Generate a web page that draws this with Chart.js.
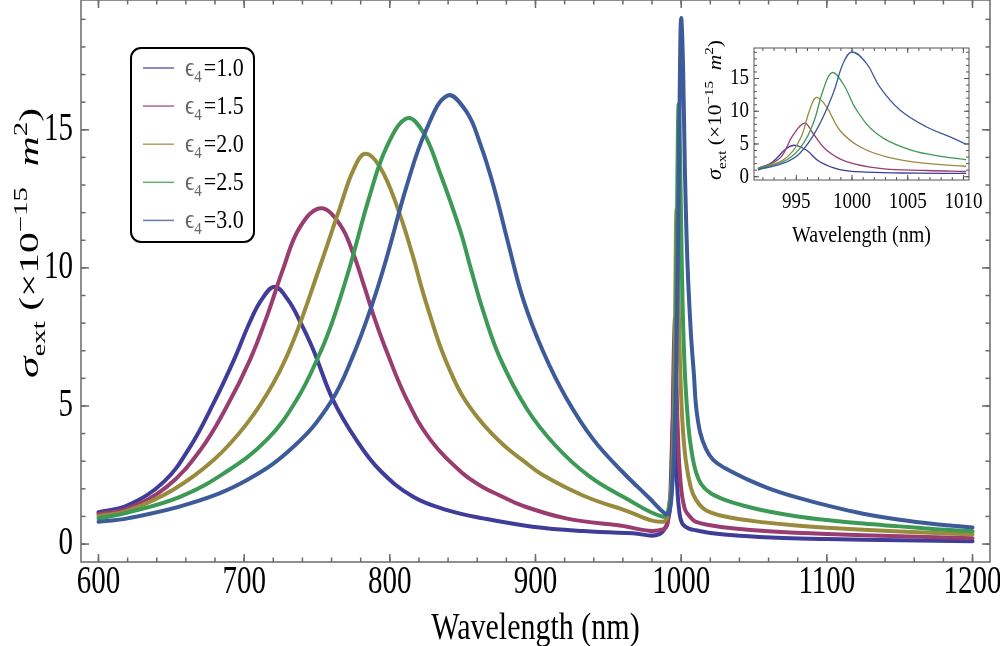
<!DOCTYPE html>
<html>
<head>
<meta charset="utf-8">
<script src="https://cdn.jsdelivr.net/npm/chart.js@4.4.0/dist/chart.umd.min.js"></script>
<style>
  body { margin: 0; background: #fff; }
  #wrap { position: relative; width: 1000px; height: 646px; }
  #main { position: absolute; left: 0; top: 0; }
  #inset { position: absolute; left: 690px; top: 0; }
</style>
</head>
<body>
<div id="wrap">
  <canvas id="main" width="1000" height="646"></canvas>
  <canvas id="inset" width="310" height="260"></canvas>
</div>
<script>
// eps_4 values of the five curves
var epsLabels = ['1.0', '1.5', '2.0', '2.5', '3.0'];
var colors = ['rgb(63,61,153)', 'rgb(153,61,113)', 'rgb(153,139,61)', 'rgb(61,153,86)', 'rgb(61,90,153)'];

// main plot: wavelength (nm) and sigma_ext (1e-15 m^2)
var wl1 = [600, 620, 645, 663, 679, 693, 704, 712, 721, 730, 738, 747.5, 761, 777, 793, 816, 840, 864, 898, 933,
           967, 985, 991.6, 992.9, 994.1, 994.9, 995.9, 997.1, 998.9, 1001.3, 1005.8, 1010.2, 1020, 1040, 1070, 1100, 1150, 1200];
var sig1 = [1.15, 1.40, 2.26, 3.53, 5.10, 6.67, 8.05, 8.85, 9.32, 8.85, 8.1, 7.03, 5.22, 3.77, 2.68, 1.71, 1.22, 0.93, 0.63, 0.47,
            0.39, 0.36, 1.02, 2.29, 4.3, 4.8, 4.07, 2.29, 1.1, 0.7, 0.55, 0.5, 0.4, 0.3, 0.22, 0.18, 0.14, 0.1];

var wl2 = [600, 620, 647, 670, 688, 704, 716, 727, 738, 752.5, 766, 775, 782, 790, 798, 811.5, 827.5, 850, 864, 875.5,
           891.5, 921, 955.6, 987.5, 991.6, 993.5, 994.7, 995.75, 996.5, 997.7, 999.5, 1002.5, 1006.7, 1010.2, 1020, 1035, 1060, 1100, 1150, 1200];
var sig2 = [1.09, 1.29, 2.08, 3.41, 4.97, 6.67, 8.3, 10.0, 11.45, 12.16, 11.55, 10.5, 9.4, 8.1, 6.95, 5.25, 3.8, 2.56, 2.06, 1.76,
            1.38, 0.93, 0.69, 0.53, 1.3, 2.8, 6.35, 8.2, 6.6, 4.07, 2.29, 1.27, 0.95, 0.8, 0.68, 0.57, 0.46, 0.36, 0.28, 0.21];

var wl3 = [600, 620, 651, 679, 702, 720, 734, 752, 766, 775, 783, 793, 805, 816, 822, 829, 835, 842, 850, 860,
           870, 880, 892, 905, 933, 960, 987.5, 991.6, 993.8, 995.3, 996.2, 996.8, 997.7, 998.9, 1000.7, 1003.1, 1006.7, 1010.2, 1015, 1020,
           1030, 1050, 1075, 1100, 1150, 1200];
var sig3 = [1.01, 1.21, 1.96, 3.04, 4.37, 5.82, 7.39, 10.05, 12.22, 13.55, 14.13, 13.67, 12.22, 10.4, 9.25, 8.05, 7.1, 6.2, 5.35, 4.6,
            4.0, 3.5, 3.0, 2.5, 1.75, 1.25, 0.81, 1.37, 2.54, 5.6, 10.2, 12.1, 10.7, 7.1, 4.57, 3.05, 2.03, 1.6, 1.3, 1.15,
            1.0, 0.83, 0.69, 0.59, 0.45, 0.35];

var wl4 = [600, 620, 656, 686, 715.5, 736, 752, 761, 772.6, 786, 798, 812, 823, 834, 848, 856, 864, 875.5, 894, 914,
           937, 962, 987.5, 991.6, 993.8, 995.3, 996.5, 997.4, 998.2, 999.2, 1000.4, 1002.2, 1004.9, 1007.3, 1010.2, 1014, 1020, 1030, 1045, 1060,
           1080, 1100, 1125, 1150, 1175, 1200];
var sig4 = [0.93, 1.14, 1.71, 2.56, 3.77, 5.22, 6.91, 8.12, 10.05, 12.58, 14.4, 15.42, 14.9, 13.5, 11.4, 9.9, 8.45, 6.75, 4.9, 3.55,
            2.45, 1.66, 0.99, 1.27, 2.29, 4.3, 8.1, 13.2, 15.9, 14.2, 10.2, 6.6, 4.3, 3.3, 2.6, 2.15, 1.85, 1.6, 1.36, 1.18,
            1.0, 0.87, 0.74, 0.64, 0.54, 0.46];

var wl5 = [600, 620, 663, 702, 734, 759, 775, 788, 798, 811.5, 825, 839.6, 852.7, 862, 871, 881, 891.6, 905, 921, 939.5,
           960, 978.4, 988.7, 991.6, 993.8, 995.3, 996.8, 998.3, 999.2, 1000, 1001.3, 1002.5, 1004.3, 1006.7, 1008.8, 1010.2, 1013, 1017, 1022, 1030,
           1045, 1060, 1080, 1100, 1125, 1150, 1175, 1200];
var sig5 = [0.81, 0.93, 1.47, 2.32, 3.53, 5.1, 6.85, 8.7, 10.4, 12.95, 15.0, 16.24, 15.65, 14.5, 13.0, 10.95, 8.85, 7.0, 5.3, 3.8,
            2.6, 1.65, 1.11, 1.12, 2.03, 3.56, 7.11, 12.7, 17.3, 19.05, 17.3, 13.7, 10.2, 7.6, 6.1, 5.0, 4.05, 3.45, 3.05, 2.75,
            2.35, 2.02, 1.68, 1.4, 1.1, 0.88, 0.72, 0.6];

// inset: close-up of the narrow resonance
var inWl1 = [991.6, 992.9, 994.1, 994.9, 995.9, 997.1, 998.9, 1001.3, 1005.8, 1010.2];
var inSig1 = [1.02, 2.29, 4.3, 4.8, 4.07, 2.29, 1.1, 0.7, 0.55, 0.5];
var inWl2 = [991.6, 993.5, 994.7, 995.75, 996.5, 997.7, 999.5, 1002.5, 1006.7, 1010.2];
var inSig2 = [1.3, 2.8, 6.35, 8.2, 6.6, 4.07, 2.29, 1.27, 0.95, 0.8];
var inWl3 = [991.6, 993.8, 995.3, 996.2, 996.8, 997.7, 998.9, 1000.7, 1003.1, 1006.7, 1010.2];
var inSig3 = [1.37, 2.54, 5.6, 10.2, 12.1, 10.7, 7.1, 4.57, 3.05, 2.03, 1.6];
var inWl4 = [991.6, 993.8, 995.3, 996.5, 997.4, 998.2, 999.2, 1000.4, 1002.2, 1004.9, 1007.3, 1010.2];
var inSig4 = [1.27, 2.29, 4.3, 8.1, 13.2, 15.9, 14.2, 10.2, 6.6, 4.3, 3.3, 2.6];
var inWl5 = [991.6, 993.8, 995.3, 996.8, 998.3, 999.2, 1000, 1001.3, 1002.5, 1004.3, 1006.7, 1008.8, 1010.2];
var inSig5 = [1.12, 2.03, 3.56, 7.11, 12.7, 17.3, 19.05, 17.3, 13.7, 10.2, 7.6, 6.1, 5.0];

var xTicks = [600, 700, 800, 900, 1000, 1100, 1200];
var yTicks = [0, 5, 10, 15];
var insetXTicks = [995, 1000, 1005, 1010];
var insetYTicks = [0, 5, 10, 15];

var SERIF = "'Liberation Serif', 'DejaVu Serif', serif";

function series(xs, ys) {
    return xs.map(function (x, i) { return { x: x, y: ys[i] }; });
}

function makeDatasets(pairs, width) {
    return pairs.map(function (p, i) {
        return {
            label: epsLabels[i],
            data: series(p[0], p[1]),
            borderColor: colors[i],
            borderWidth: width,
            pointRadius: 0,
            fill: false,
            tension: 0.4,
            borderJoinStyle: 'round',
            borderCapStyle: 'round',
            order: pairs.length - 1 - i
        };
    });
}

function frameScales(xMin, xMax, yMin, yMax, yWidth, xHeight) {
    return {
        x: {
            type: 'linear', min: xMin, max: xMax,
            ticks: { display: false }, grid: { display: false }, border: { display: false },
            afterFit: function (s) { s.height = xHeight; s.paddingLeft = 0; s.paddingRight = 0; }
        },
        y: {
            type: 'linear', min: yMin, max: yMax,
            ticks: { display: false }, grid: { display: false }, border: { display: false },
            afterFit: function (s) { s.width = yWidth; s.paddingTop = 0; s.paddingBottom = 0; }
        }
    };
}

function stretchText(ctx, str, x, y, size, align, sy) {
    ctx.save();
    ctx.translate(x, y);
    ctx.scale(1, sy);
    ctx.font = size + 'px ' + SERIF;
    ctx.textAlign = align;
    ctx.textBaseline = 'middle';
    ctx.fillStyle = '#000';
    ctx.fillText(str, 0, 0);
    ctx.restore();
}

// sigma_ext (x10^-15 m^2), rotated and stretched to a given length
function yTitle(ctx, F, cx, cy, len) {
    var pieces = [
        { t: 'σ', f: 'italic ' + (F * 1.05) + 'px ' + SERIF, dy: 0 },
        { t: 'ext', f: (F * 0.7) + 'px ' + SERIF, dy: F * 0.25 },
        { t: ' (×10', f: F + 'px ' + SERIF, dy: 0 },
        { t: '−15', f: (F * 0.7) + 'px ' + SERIF, dy: -F * 0.42 },
        { t: '  m', f: 'italic ' + F + 'px ' + SERIF, dy: 0 },
        { t: '2', f: (F * 0.7) + 'px ' + SERIF, dy: -F * 0.42 },
        { t: ')', f: F + 'px ' + SERIF, dy: 0 }
    ];
    var w = 0;
    pieces.forEach(function (p) { ctx.font = p.f; p.w = ctx.measureText(p.t).width; w += p.w; });
    ctx.save();
    ctx.translate(cx, cy);
    ctx.rotate(-Math.PI / 2);
    ctx.scale(len / w, 1);
    ctx.fillStyle = '#000';
    ctx.textBaseline = 'alphabetic';
    ctx.textAlign = 'left';
    var x = -w / 2;
    pieces.forEach(function (p) {
        ctx.font = p.f;
        ctx.fillText(p.t, x, p.dy + F * 0.33);
        x += p.w;
    });
    ctx.restore();
}

var framePlugin = {
    id: 'frame',
    afterDatasetsDraw: function (chart, args, o) {
        var ctx = chart.ctx, a = chart.chartArea;
        var xs = chart.scales.x, ys = chart.scales.y;
        ctx.save();
        ctx.strokeStyle = o.color;
        ctx.lineWidth = o.lw;
        ctx.strokeRect(a.left, a.top, a.right - a.left, a.bottom - a.top);
        function seg(x1, y1, x2, y2) { ctx.beginPath(); ctx.moveTo(x1, y1); ctx.lineTo(x2, y2); ctx.stroke(); }
        function xTick(v, len) {
            var p = xs.getPixelForValue(v);
            seg(p, a.bottom, p, a.bottom - len);
            seg(p, a.top, p, a.top + len);
        }
        function yTick(v, len) {
            var p = ys.getPixelForValue(v);
            seg(a.left, p, a.left + len, p);
            seg(a.right, p, a.right - len, p);
        }
        var n, i;
        n = Math.round((o.xMinorTo - o.xMinorFrom) / o.xMinorStep);
        for (i = 0; i <= n; i++) xTick(o.xMinorFrom + i * o.xMinorStep, o.minorLen);
        n = Math.round((o.yMinorTo - o.yMinorFrom) / o.yMinorStep);
        for (i = 0; i <= n; i++) yTick(o.yMinorFrom + i * o.yMinorStep, o.minorLen);
        o.xMajor.forEach(function (v) { xTick(v, o.majorLen); });
        o.yMajor.forEach(function (v) { yTick(v, o.majorLen); });
        ctx.restore();

        o.xMajor.forEach(function (v) {
            stretchText(ctx, String(v), xs.getPixelForValue(v), a.bottom + o.xLabelOffset, o.font, 'center', o.stretch);
        });
        o.yMajor.forEach(function (v) {
            stretchText(ctx, String(v), a.left - o.yLabelOffset, ys.getPixelForValue(v), o.font, 'right', o.stretch);
        });
        stretchText(ctx, 'Wavelength (nm)', (a.left + a.right) / 2, o.xTitleY, o.xTitleSize, 'center', o.titleStretch);
        yTitle(ctx, o.yTitleSize, o.yTitleX, o.yTitleY, o.yTitleLen);
    }
};

var legendPlugin = {
    id: 'boxLegend',
    afterDraw: function (chart, args, o) {
        var ctx = chart.ctx;
        var x = o.x, y = o.y, w = o.w, h = o.h, r = 10;
        ctx.save();
        ctx.beginPath();
        ctx.moveTo(x + r, y);
        ctx.lineTo(x + w - r, y);
        ctx.arcTo(x + w, y, x + w, y + r, r);
        ctx.lineTo(x + w, y + h - r);
        ctx.arcTo(x + w, y + h, x + w - r, y + h, r);
        ctx.lineTo(x + r, y + h);
        ctx.arcTo(x, y + h, x, y + h - r, r);
        ctx.lineTo(x, y + r);
        ctx.arcTo(x, y, x + r, y, r);
        ctx.closePath();
        ctx.fillStyle = '#fff';
        ctx.fill();
        ctx.lineWidth = 2;
        ctx.strokeStyle = '#000';
        ctx.stroke();

        chart.data.datasets.forEach(function (ds, i) {
            var ry = y + o.first + i * o.gap;
            ctx.globalAlpha = 0.8;
            ctx.strokeStyle = ds.borderColor;
            ctx.lineWidth = 1.5;
            ctx.beginPath();
            ctx.moveTo(x + 12, ry);
            ctx.lineTo(x + 43, ry);
            ctx.stroke();
            ctx.globalAlpha = 1;
            ctx.save();
            ctx.translate(0, ry);
            ctx.scale(1, 1.15);
            ctx.textBaseline = 'alphabetic';
            ctx.textAlign = 'left';
            var tx = x + 54, base = 7;
            ctx.fillStyle = '#666';
            ctx.font = '23px ' + SERIF;
            ctx.fillText('ϵ', tx, base);
            tx += ctx.measureText('ϵ').width;
            ctx.font = '15px ' + SERIF;
            ctx.fillText('4', tx, base + 5);
            tx += ctx.measureText('4').width + 2;
            ctx.fillStyle = '#000';
            ctx.font = '22px ' + SERIF;
            ctx.fillText('=' + ds.label, tx, base);
            ctx.restore();
        });
        ctx.restore();
    }
};

new Chart(document.getElementById('main').getContext('2d'), {
    type: 'line',
    data: { datasets: makeDatasets([[wl1, sig1], [wl2, sig2], [wl3, sig3], [wl4, sig4], [wl5, sig5]], 4) },
    options: {
        responsive: false,
        animation: false,
        devicePixelRatio: 1,
        events: [],
        layout: { padding: { top: 0, right: 10, left: 0, bottom: 0 } },
        scales: frameScales(588, 1212, -0.65, 19.7, 81, 84),
        plugins: {
            legend: { display: false },
            tooltip: { enabled: false },
            frame: {
                color: '#6a6a6a', lw: 1.5,
                xMajor: xTicks, xMinorFrom: 600, xMinorTo: 1200, xMinorStep: 20,
                yMajor: yTicks, yMinorFrom: 0, yMinorTo: 19, yMinorStep: 1,
                majorLen: 8, minorLen: 4.5,
                font: 29, stretch: 1.37, xLabelOffset: 21, yLabelOffset: 8,
                xTitleSize: 30, xTitleY: 629, titleStretch: 1.25,
                yTitleSize: 27, yTitleX: 29, yTitleY: 243, yTitleLen: 270
            },
            boxLegend: { x: 131, y: 48, w: 123, h: 194, first: 20, gap: 38.1 }
        }
    },
    plugins: [framePlugin, legendPlugin]
});

new Chart(document.getElementById('inset').getContext('2d'), {
    type: 'line',
    data: { datasets: makeDatasets([[inWl1, inSig1], [inWl2, inSig2], [inWl3, inSig3], [inWl4, inSig4], [inWl5, inSig5]], 1.3) },
    options: {
        responsive: false,
        animation: false,
        devicePixelRatio: 1,
        events: [],
        layout: { padding: { top: 48, right: 31, left: 0, bottom: 0 } },
        scales: frameScales(991.2, 1010.5, -0.5, 19.66, 64, 80),
        plugins: {
            legend: { display: false },
            tooltip: { enabled: false },
            frame: {
                color: '#555', lw: 1,
                xMajor: insetXTicks, xMinorFrom: 992, xMinorTo: 1010, xMinorStep: 1,
                yMajor: insetYTicks, yMinorFrom: 0, yMinorTo: 19, yMinorStep: 1,
                majorLen: 5, minorLen: 3,
                font: 19, stretch: 1.2, xLabelOffset: 22, yLabelOffset: 5,
                xTitleSize: 20, xTitleY: 236, titleStretch: 1.2,
                yTitleSize: 19, yTitleX: 25, yTitleY: 110, yTitleLen: 140
            }
        }
    },
    plugins: [framePlugin]
});
</script>
</body>
</html>
